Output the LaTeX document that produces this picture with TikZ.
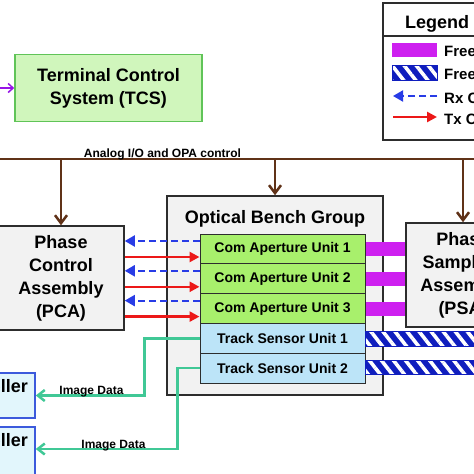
\documentclass[tikz,border=0pt]{standalone}
\usepackage{fontspec}
\setmainfont{Liberation Sans}
\usetikzlibrary{arrows.meta,patterns.meta,calc}

\definecolor{tcsfill}{RGB}{208,246,188}
\definecolor{tcsedge}{RGB}{96,196,88}
\definecolor{panelgray}{RGB}{242,242,242}
\definecolor{edgegray}{RGB}{45,45,45}
\definecolor{comgreen}{RGB}{168,240,108}
\definecolor{trackblue}{RGB}{188,228,248}
\definecolor{ctrlcyan}{RGB}{226,246,252}
\definecolor{ctrlblue}{RGB}{60,90,220}
\definecolor{busbrown}{RGB}{96,50,24}
\definecolor{rxblue}{RGB}{40,60,230}
\definecolor{txred}{RGB}{236,24,24}
\definecolor{imggreen}{RGB}{64,200,150}
\definecolor{barmagenta}{RGB}{206,32,240}
\definecolor{hatchblue}{RGB}{16,30,190}
\definecolor{tcspurple}{RGB}{150,20,230}

\begin{document}
\begin{tikzpicture}[x=1pt,y=-1pt,
  bigfont/.style={font=\fontsize{18}{23}\selectfont\bfseries},
  greybox/.style={bigfont,draw=edgegray,line width=1.5pt,fill=panelgray,align=center,inner sep=0pt},
  unitbox/.style={draw=edgegray,line width=1pt,minimum width=165pt,minimum height=29.8pt,inner sep=0pt,font=\fontsize{14}{16}\selectfont\bfseries},
  comunit/.style={unitbox,fill=comgreen},
  trackunit/.style={unitbox,fill=trackblue},
  ctrlbox/.style={draw=ctrlblue,line width=1.5pt,fill=ctrlcyan,minimum width=95pt,inner sep=0pt},
  ctrltext/.style={bigfont,inner sep=0pt,anchor=base east},
  busline/.style={draw=busbrown,line width=2.5pt},
  busarrow/.style={draw=busbrown,line width=2.5pt,-{Straight Barb[length=8pt,width=12pt]}},
  tcsarrow/.style={draw=tcspurple,line width=1.5pt,-{Straight Barb[length=5pt,width=9pt]}},
  rxline/.style={draw=rxblue,line width=2pt,dash pattern=on 7pt off 4pt,-{Triangle[length=10pt,width=11pt]}},
  txline/.style={draw=txred,line width=2.5pt,-{Triangle[length=10pt,width=10pt]}},
  imgline/.style={draw=imggreen,line width=2.5pt,-{Straight Barb[length=7pt,width=11pt]}},
  magbar/.style={fill=barmagenta},
  hatchbar/.style={preaction={fill=hatchblue},pattern={Lines[angle=-52,distance=9.5pt,line width=3.6pt]},pattern color=white,draw=hatchblue,line width=1pt},
  smalltext/.style={font=\fontsize{12}{14}\selectfont\bfseries,inner sep=0pt,anchor=base},
  legtext/.style={font=\fontsize{15}{17}\selectfont\bfseries,inner sep=0pt,anchor=base west}]
\useasboundingbox (0,0) rectangle (474,474);
\clip (0,0) rectangle (474,474);

\node[bigfont,draw=tcsedge,line width=1.5pt,fill=tcsfill,align=center,minimum width=187pt,minimum height=67pt] (tcs) at (108.5,88) {Terminal Control\\System (TCS)};
\coordinate (tcsin) at (-5,88);
\draw[tcsarrow] (tcsin) -- (tcs.west);

\node[draw=edgegray,line width=1.5pt,fill=white,minimum width=117pt,minimum height=137pt,inner sep=0pt] (legend) at (441.5,71.5) {};
\coordinate (legsep) at (0,36);
\draw[edgegray,line width=1.5pt] (legend.west |- legsep) -- (legend.east |- legsep);
\node[bigfont,inner sep=0pt,anchor=base] (legtitle) at (437,28) {Legend};
\node[magbar,minimum width=45pt,minimum height=14pt,inner sep=0pt] (legmag) at (414.5,50) {};
\node[hatchbar,minimum width=45pt,minimum height=15pt,inner sep=0pt] (leghatch) at (414.5,73) {};
\coordinate (legrxa) at (437,96);
\coordinate (legrxb) at (393,96);
\coordinate (legtxa) at (393,117);
\coordinate (legtxb) at (437,117);
\draw[rxline] (legrxa) -- (legrxb);
\draw[txline] (legtxa) -- (legtxb);
\node[legtext] (legmagtxt) at (444,56) {Free};
\node[legtext] (leghatchtxt) at (444,79) {Free};
\node[legtext] (legrxtxt) at (444,103) {Rx C};
\node[legtext] (legtxtxt) at (444,124) {Tx C};

\coordinate (busw) at (-5,159);
\coordinate (buse) at (480,159);
\path[busline] (busw) edge (buse);
\node[smalltext] (buslabel) at (162.5,157) {Analog I/O and OPA control};

\node[greybox,minimum width=126pt,minimum height=104pt] (pca) at (61,278) {Phase\\Control\\Assembly\\(PCA)};
\node[greybox,minimum width=216pt,minimum height=199pt] (obg) at (275,295.5) {};
\node[bigfont,inner sep=0pt,anchor=base] (obgtitle) at (275,223) {Optical Bench Group};
\node[greybox,minimum width=114pt,minimum height=104pt] (psa) at (463,275) {Phase\\Sampling\\Assembly\\(PSA)};

\draw[busarrow] (pca.north |- busw) -- (pca.north);
\draw[busarrow] (obg.north |- busw) -- (obg.north);
\draw[busarrow] (psa.north |- busw) -- (psa.north);

\node[comunit] (cau1) at (282.5,249) {Com Aperture Unit 1};
\node[comunit] (cau2) at (282.5,278.8) {Com Aperture Unit 2};
\node[comunit] (cau3) at (282.5,308.6) {Com Aperture Unit 3};
\node[trackunit] (tsu1) at (282.5,338.4) {Track Sensor Unit 1};
\node[trackunit] (tsu2) at (282.5,368.2) {Track Sensor Unit 2};

\draw[rxline] ($(cau1.west)+(0,-8)$) -- ($(pca.east |- cau1.west)+(0,-8)$);
\draw[txline] ($(pca.east |- cau1.west)+(0,8)$) -- ($(cau1.west)+(0,8)$);
\draw[rxline] ($(cau2.west)+(0,-8)$) -- ($(pca.east |- cau2.west)+(0,-8)$);
\draw[txline] ($(pca.east |- cau2.west)+(0,8)$) -- ($(cau2.west)+(0,8)$);
\draw[rxline] ($(cau3.west)+(0,-8)$) -- ($(pca.east |- cau3.west)+(0,-8)$);
\draw[txline] ($(pca.east |- cau3.west)+(0,8)$) -- ($(cau3.west)+(0,8)$);

\fill[magbar] ($(cau1.east)+(0,-7)$) rectangle ($(psa.west |- cau1.east)+(0,7)$);
\fill[magbar] ($(cau2.east)+(0,-7)$) rectangle ($(psa.west |- cau2.east)+(0,7)$);
\fill[magbar] ($(cau3.east)+(0,-7)$) rectangle ($(psa.west |- cau3.east)+(0,7)$);

\path[hatchbar] ($(tsu1.east)+(0,-7)$) rectangle ($(tsu1.east)+(125,8)$);
\path[hatchbar] ($(tsu2.east)+(0,-8)$) rectangle ($(tsu2.east)+(125,6.5)$);

\node[ctrlbox,minimum height=45pt] (ctrl1) at (-12.5,395.5) {};
\node[ctrlbox,minimum height=48pt] (ctrl2) at (-12.5,451) {};
\node[ctrltext] (ctrl1txt) at (28,392) {Controller};
\node[ctrltext] (ctrl2txt) at (28,446) {Controller};

\draw[imgline] (tsu1.west) -- ++(-55,0) |- (ctrl1.east);
\draw[imgline] (tsu2.west) -- ++(-22,0) |- ($(ctrl2.east)+(0,-2)$);
\node[smalltext] (img1) at (91.5,394) {Image Data};
\node[smalltext] (img2) at (113.5,448) {Image Data};
\end{tikzpicture}
\end{document}
